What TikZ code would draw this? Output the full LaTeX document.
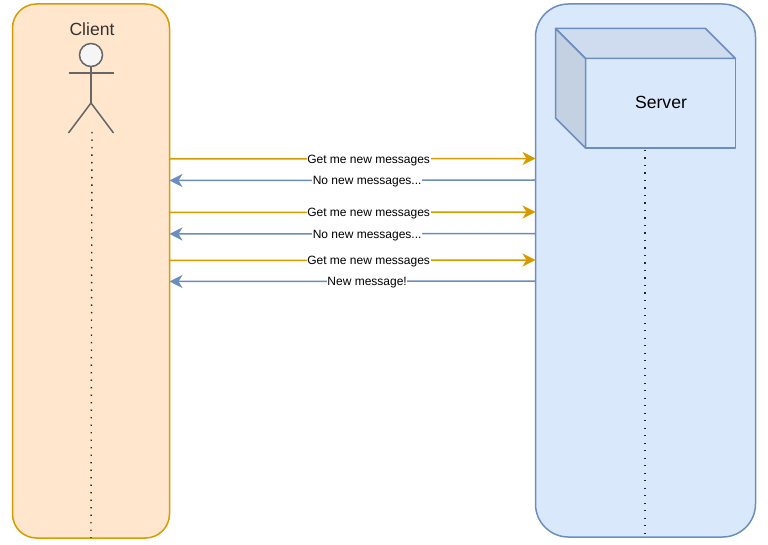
\documentclass[tikz,border=0pt]{standalone}
\usepackage{fontspec}
\setmainfont{Liberation Sans}
\usetikzlibrary{arrows.meta}
\definecolor{clientline}{HTML}{D79B00}
\definecolor{clientfill}{HTML}{FFE6CC}
\definecolor{serverline}{HTML}{6C8EBF}
\definecolor{serverfill}{HTML}{DAE8FC}
\definecolor{servertop}{HTML}{CFDCEF}
\definecolor{serverside}{HTML}{C4D1E3}
\definecolor{actorline}{HTML}{666666}
\definecolor{actorfill}{HTML}{F5F5F5}
\definecolor{clienttext}{HTML}{333333}
\tikzset{
  lane/.style={draw,line width=1.5pt,inner sep=0pt,outer sep=0pt},
  lifeline/.style={black!85,line width=1.4pt,dash pattern=on 1.4pt off 6.1pt},
  actor/.style={actorline,line width=1.5pt},
  cube/.style={draw=serverline,line width=1.5pt,line join=round},
  request/.style={clientline,line width=1.5pt,-{Stealth[length=13pt,width=13pt,inset=4pt]}},
  reply/.style={serverline,line width=1.5pt,-{Stealth[length=13pt,width=13pt,inset=4pt]}},
  msg/.style={fill=white,inner sep=0.6pt,text=black,yshift=-1.4pt,font=\fontsize{12}{14}\selectfont},
  title/.style={inner sep=0pt,font=\fontsize{17.6}{20}\selectfont},
}
\begin{document}
\begin{tikzpicture}[x=1pt,y=-1pt]
\useasboundingbox (0,0) rectangle (768,545);

\node[lane,draw=clientline,fill=clientfill,rounded corners=24pt,minimum width=157pt,minimum height=534pt] (client) at (91,271) {};
\node[lane,draw=serverline,fill=serverfill,rounded corners=33pt,minimum width=220pt,minimum height=533pt] (server) at (645.5,270.5) {};

% actor
\node[title,text=clienttext] (clientname) at (92,29) {Client};
\node[draw=actorline,fill=actorfill,line width=1.5pt,circle,inner sep=0pt,minimum size=23pt] (head) at (91,55) {};
\coordinate (hip) at (91,103);
\coordinate (handl) at (68.5,73);
\coordinate (handr) at (113.5,73);
\coordinate (footl) at (68.5,133);
\coordinate (footr) at (113.5,133);
\draw[actor] (head.south) -- (hip);
\draw[actor] (handl) -- (handr);
\draw[actor] (footl) -- (hip) -- (footr);

% server box
\coordinate (backtl) at (555.5,28.5);
\coordinate (backtr) at (705.5,28.5);
\coordinate (backbl) at (555.5,118);
\coordinate (fronttl) at (585.5,58.5);
\coordinate (fronttr) at (735.5,58.5);
\coordinate (frontbl) at (585.5,148);
\coordinate (frontbr) at (735.5,148);
\fill[serverfill] (fronttl) rectangle (frontbr);
\filldraw[cube,fill=servertop] (backtl) -- (backtr) -- (fronttr) -- (fronttl) -- cycle;
\filldraw[cube,fill=serverside] (backtl) -- (fronttl) -- (frontbl) -- (backbl) -- cycle;
\draw[cube] (fronttl) rectangle (frontbr);
\node[title,text=black] (servername) at (661,102) {Server};

% lifelines
\coordinate (clientstart) at (92,132);
\coordinate (clientend) at (91,538);
\coordinate (serverstart) at (645,150);
\coordinate (serverend) at (645,536);
\draw[lifeline] (clientstart) -- (clientend);
\draw[lifeline] (serverstart) -- (serverend);

% polling
\coordinate (c1) at (client.east |- 0,159);
\coordinate (s1) at (server.west |- 0,158.5);
\coordinate (s2) at (server.west |- 0,180);
\coordinate (c2) at (client.east |- 0,180.5);
\coordinate (c3) at (client.east |- 0,212.5);
\coordinate (s3) at (server.west |- 0,212);
\coordinate (s4) at (server.west |- 0,233.5);
\coordinate (c4) at (client.east |- 0,234);
\coordinate (c5) at (client.east |- 0,260.5);
\coordinate (s5) at (server.west |- 0,260);
\coordinate (s6) at (server.west |- 0,281);
\coordinate (c6) at (client.east |- 0,281.5);

\draw[request] (c1) -- node[msg,pos=0.544] (get1) {Get me new messages} (s1);
\draw[reply] (s2) -- node[msg,pos=0.46] (no1) {No new messages...} (c2);
\draw[request] (c3) -- node[msg,pos=0.544] (get2) {Get me new messages} (s3);
\draw[reply] (s4) -- node[msg,pos=0.46] (no2) {No new messages...} (c4);
\draw[request] (c5) -- node[msg,pos=0.544] (get3) {Get me new messages} (s5);
\draw[reply] (s6) -- node[msg,pos=0.46] (yes) {New message!} (c6);
\end{tikzpicture}
\end{document}
